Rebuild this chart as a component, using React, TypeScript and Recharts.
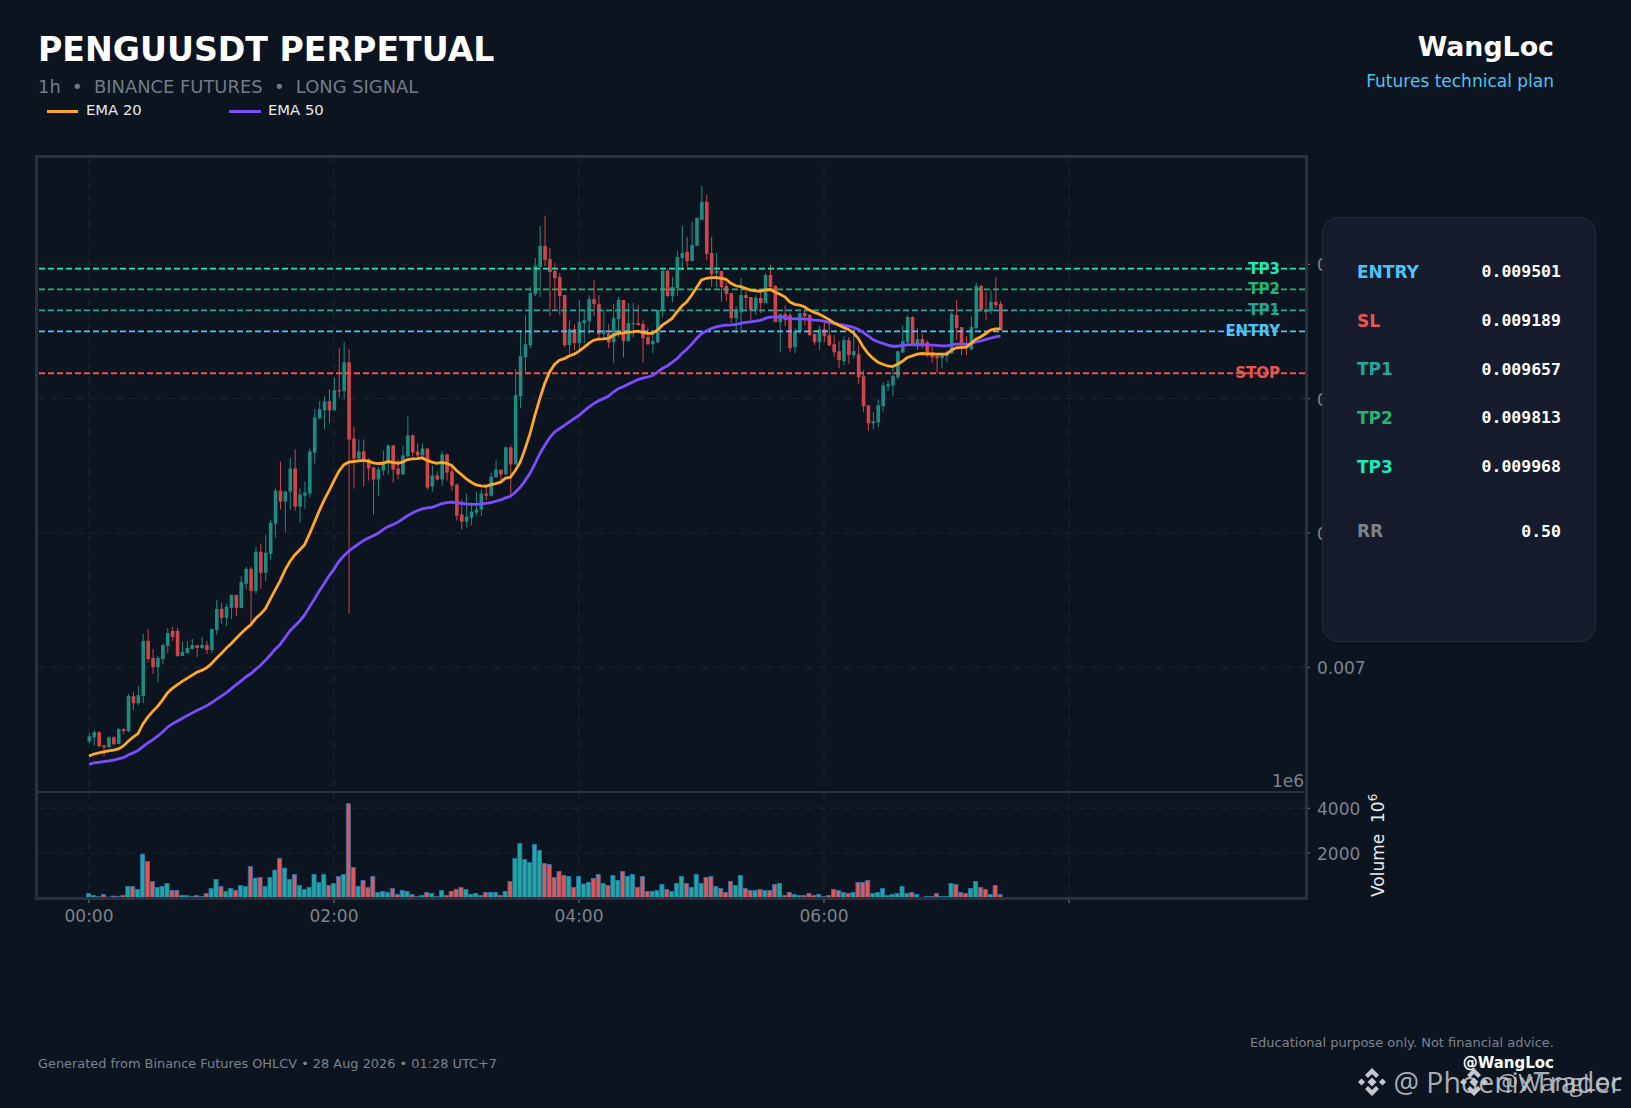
import React from "react";
import {
  Bar,
  CartesianGrid,
  ComposedChart,
  Line,
  ReferenceLine,
  XAxis,
  YAxis,
} from "recharts";

// prices below are in millionths of USDT
const opens = [
  6450, 6480, 6517, 6420, 6405, 6480, 6428, 6540, 6525, 6786, 6733, 6786, 7196, 7069, 7002, 7062, 7159, 7271, 7271, 7084,
  7107, 7136, 7166, 7144, 7166, 7129, 7278, 7435, 7368, 7443, 7539, 7443, 7621, 7733, 7569, 7860, 7704, 7845, 8070, 8316,
  8234, 8308, 8480, 8196, 8278, 8293, 8599, 8853, 8913, 8980, 8913, 9062, 9055, 9271, 8704, 8554, 8607, 8547, 8487, 8398,
  8465, 8517, 8652, 8480, 8435, 8569, 8726, 8607, 8577, 8629, 8346, 8428, 8398, 8584, 8458, 8360, 8137, 8084, 8114, 8152,
  8174, 8293, 8278, 8413, 8472, 8435, 8637, 8510, 9017, 9308, 9398, 9778, 9980, 10137, 10039, 9950, 9905, 9771, 9398, 9517,
  9413, 9562, 9577, 9741, 9704, 9480, 9487, 9420, 9592, 9734, 9428, 9555, 9562, 9555, 9458, 9405, 9420, 9659, 9950, 9764,
  9823, 10047, 10092, 10025, 10137, 10331, 10465, 10084, 9935, 9950, 9838, 9786, 9599, 9644, 9771, 9756, 9659, 9749, 9711, 9920,
  9838, 9570, 9629, 9622, 9383, 9502, 9637, 9622, 9480, 9420, 9517, 9472, 9405, 9353, 9278, 9435, 9323, 9330, 9167, 8950,
  8816, 8823, 8943, 9092, 9099, 9159, 9345, 9420, 9607, 9405, 9443, 9420, 9345, 9316, 9301, 9316, 9338, 9622, 9532, 9405,
  9368, 9525, 9838, 9659, 9652, 9719, 9704,
];
const highs = [
  6510, 6532, 6525, 6420, 6487, 6487, 6547, 6547, 6801, 6816, 6860, 7248, 7286, 7136, 7084, 7174, 7293, 7301, 7293, 7189,
  7196, 7211, 7166, 7226, 7196, 7286, 7502, 7480, 7472, 7539, 7539, 7681, 7748, 7748, 7898, 7920, 7987, 8099, 8331, 8532,
  8316, 8562, 8622, 8331, 8383, 8629, 8920, 8980, 9017, 9070, 9159, 9375, 9420, 9368, 8793, 8696, 8696, 8554, 8495, 8495,
  8614, 8659, 8652, 8547, 8652, 8868, 8734, 8666, 8666, 8629, 8502, 8458, 8607, 8592, 8495, 8368, 8249, 8293, 8226, 8308,
  8323, 8353, 8450, 8540, 8472, 8644, 8652, 9219, 9510, 9621, 9831, 10047, 10286, 10361, 10122, 10010, 9935, 9771, 9584, 9554,
  9734, 9659, 9771, 9883, 9771, 9659, 9554, 9704, 9756, 9734, 9711, 9711, 9696, 9584, 9532, 9495, 9659, 9965, 9965, 9905,
  10099, 10286, 10204, 10316, 10346, 10584, 10517, 10204, 10084, 9950, 9860, 9786, 9689, 9898, 9801, 9756, 9771, 9786, 9935, 9995,
  9846, 9629, 9696, 9637, 9524, 9637, 9666, 9629, 9487, 9540, 9584, 9562, 9472, 9428, 9465, 9458, 9510, 9398, 9211, 8950,
  8898, 8995, 9122, 9137, 9241, 9353, 9547, 9622, 9614, 9525, 9480, 9435, 9383, 9338, 9345, 9360, 9644, 9734, 9532, 9465,
  9614, 9860, 9846, 9793, 9808, 9905, 9726,
];
const lows = [
  6435, 6420, 6405, 6338, 6405, 6420, 6428, 6502, 6517, 6681, 6718, 6733, 7039, 6950, 6890, 7025, 7107, 7196, 7077, 7084,
  7099, 7136, 7077, 7136, 7099, 7107, 7241, 7323, 7308, 7360, 7383, 7443, 7577, 7323, 7547, 7584, 7644, 7801, 7965, 8174,
  8002, 8174, 8166, 8077, 8181, 8263, 8517, 8845, 8771, 8816, 8913, 9010, 8995, 7398, 8331, 8540, 8346, 8390, 8137, 8278,
  8428, 8435, 8375, 8398, 8435, 8569, 8569, 8547, 8577, 8323, 8308, 8390, 8353, 8390, 8316, 8092, 8025, 8039, 8055, 8129,
  8129, 8241, 8271, 8413, 8390, 8435, 8278, 8510, 8928, 9196, 9375, 9763, 9756, 9987, 9614, 9659, 9622, 9383, 9323, 9360,
  9360, 9413, 9480, 9614, 9450, 9450, 9375, 9263, 9458, 9308, 9428, 9458, 9547, 9271, 9398, 9338, 9413, 9607, 9756, 9719,
  9764, 9957, 9980, 10025, 10137, 10331, 10032, 9831, 9831, 9719, 9726, 9562, 9487, 9487, 9659, 9584, 9622, 9637, 9711, 9808,
  9570, 9345, 9540, 9345, 9338, 9480, 9547, 9465, 9398, 9360, 9420, 9390, 9308, 9226, 9248, 9256, 9301, 9107, 8898, 8763,
  8771, 8786, 8905, 9055, 9017, 9144, 9338, 9405, 9398, 9360, 9375, 9308, 9263, 9189, 9226, 9271, 9330, 9435, 9323, 9323,
  9360, 9517, 9644, 9584, 9629, 9674, 9510,
];
const closes = [
  6487, 6517, 6413, 6405, 6480, 6428, 6540, 6525, 6786, 6733, 6793, 7196, 7062, 7002, 7069, 7166, 7256, 7226, 7084, 7114,
  7144, 7166, 7144, 7166, 7129, 7286, 7435, 7368, 7450, 7539, 7443, 7636, 7733, 7569, 7860, 7704, 7853, 8077, 8316, 8234,
  8308, 8480, 8196, 8286, 8301, 8607, 8860, 8920, 8980, 8913, 9062, 9055, 9271, 8696, 8554, 8607, 8547, 8480, 8398, 8472,
  8525, 8652, 8472, 8435, 8577, 8726, 8599, 8577, 8629, 8338, 8428, 8398, 8584, 8450, 8353, 8129, 8084, 8122, 8159, 8174,
  8293, 8278, 8420, 8472, 8435, 8637, 8510, 9025, 9316, 9405, 9786, 9987, 10137, 10032, 9943, 9898, 9764, 9398, 9517, 9413,
  9570, 9584, 9741, 9704, 9480, 9510, 9420, 9599, 9734, 9428, 9562, 9562, 9547, 9450, 9405, 9428, 9659, 9950, 9764, 9831,
  10054, 10084, 10025, 10144, 10346, 10465, 10077, 9927, 9950, 9831, 9778, 9599, 9652, 9771, 9749, 9659, 9749, 9711, 9920, 9831,
  9570, 9629, 9584, 9375, 9502, 9637, 9614, 9472, 9420, 9517, 9465, 9398, 9345, 9286, 9435, 9323, 9353, 9159, 8943, 8816,
  8831, 8950, 9099, 9107, 9167, 9353, 9428, 9607, 9405, 9443, 9405, 9338, 9308, 9301, 9323, 9345, 9629, 9525, 9405, 9383,
  9532, 9838, 9659, 9644, 9719, 9696, 9510,
];
const ema20 = [
  6340, 6355, 6363, 6370, 6378, 6383, 6393, 6415, 6450, 6480, 6507, 6579, 6629, 6672, 6709, 6756, 6810, 6843, 6870, 6895,
  6918, 6940, 6963, 6977, 6997, 7027, 7067, 7102, 7142, 7176, 7215, 7251, 7286, 7316, 7363, 7396, 7437, 7507, 7577, 7644,
  7724, 7788, 7836, 7873, 7913, 7993, 8079, 8166, 8246, 8316, 8390, 8460, 8507, 8527, 8532, 8537, 8540, 8534, 8522, 8517,
  8519, 8532, 8525, 8519, 8527, 8547, 8552, 8554, 8560, 8540, 8527, 8519, 8525, 8519, 8502, 8465, 8435, 8403, 8378, 8358,
  8351, 8348, 8360, 8368, 8378, 8408, 8415, 8465, 8527, 8627, 8739, 8875, 9000, 9112, 9198, 9254, 9286, 9298, 9318, 9331,
  9353, 9381, 9411, 9435, 9443, 9445, 9448, 9472, 9485, 9488, 9495, 9497, 9502, 9493, 9485, 9485, 9510, 9547, 9572, 9597,
  9646, 9689, 9721, 9771, 9828, 9883, 9896, 9900, 9900, 9896, 9888, 9858, 9840, 9833, 9821, 9808, 9803, 9798, 9810, 9812,
  9793, 9777, 9758, 9721, 9702, 9696, 9684, 9659, 9642, 9629, 9609, 9590, 9564, 9547, 9530, 9515, 9490, 9448, 9385, 9336,
  9299, 9271, 9256, 9243, 9239, 9256, 9278, 9306, 9318, 9331, 9336, 9333, 9333, 9331, 9331, 9331, 9360, 9378, 9381, 9381,
  9411, 9443, 9460, 9485, 9510, 9519, 9519,
];
const ema50 = [
  6278, 6288, 6293, 6298, 6303, 6310, 6318, 6328, 6348, 6363, 6380, 6410, 6437, 6460, 6487, 6519, 6554, 6579, 6599, 6619,
  6639, 6659, 6679, 6696, 6713, 6736, 6761, 6786, 6810, 6840, 6870, 6898, 6928, 6952, 6985, 7015, 7052, 7092, 7134, 7170,
  7221, 7271, 7308, 7345, 7390, 7450, 7507, 7569, 7624, 7681, 7731, 7788, 7830, 7864, 7892, 7918, 7943, 7963, 7980, 7997,
  8025, 8047, 8062, 8079, 8104, 8129, 8149, 8166, 8179, 8187, 8191, 8204, 8219, 8226, 8229, 8226, 8221, 8216, 8213, 8213,
  8216, 8221, 8226, 8236, 8246, 8261, 8273, 8303, 8340, 8390, 8445, 8515, 8590, 8651, 8709, 8751, 8776, 8801, 8826, 8851,
  8875, 8907, 8937, 8963, 8984, 9000, 9017, 9049, 9073, 9088, 9107, 9124, 9142, 9152, 9161, 9172, 9198, 9224, 9243, 9269,
  9298, 9336, 9368, 9405, 9448, 9485, 9504, 9522, 9534, 9542, 9547, 9547, 9552, 9560, 9567, 9572, 9577, 9583, 9597, 9607,
  9608, 9608, 9605, 9595, 9594, 9594, 9594, 9590, 9584, 9582, 9577, 9567, 9560, 9552, 9547, 9540, 9530, 9515, 9493, 9467,
  9440, 9423, 9411, 9398, 9390, 9390, 9396, 9400, 9400, 9403, 9400, 9400, 9398, 9396, 9393, 9393, 9400, 9405, 9405, 9405,
  9408, 9423, 9430, 9440, 9450, 9460, 9465,
];
const volumes = [
  207, 118, 59, 163, 44, 89, 74, 118, 518, 518, 385, 1954, 1628, 740, 474, 518, 651, 340, 340, 118,
  118, 74, 118, 74, 207, 429, 829, 518, 296, 429, 340, 562, 518, 1406, 888, 918, 518, 918, 1243, 1761,
  1332, 829, 1051, 562, 385, 474, 1051, 696, 1051, 562, 651, 962, 1051, 4203, 1362, 518, 784, 474, 962, 252,
  296, 252, 429, 163, 340, 296, 163, 74, 118, 252, 207, 74, 340, 118, 296, 385, 474, 385, 163, 207,
  118, 252, 252, 252, 118, 296, 740, 1761, 2427, 1717, 1584, 2383, 2116, 1539, 1495, 918, 1184, 1006, 962, 474,
  962, 622, 696, 873, 1051, 651, 562, 1006, 784, 1184, 962, 1051, 474, 962, 296, 296, 340, 607, 385, 296,
  651, 962, 651, 474, 1051, 651, 918, 962, 518, 429, 252, 740, 562, 1006, 429, 340, 340, 385, 340, 340,
  607, 651, 118, 252, 163, 118, 118, 207, 118, 163, 74, 118, 385, 340, 252, 207, 252, 696, 696, 784,
  207, 252, 429, 118, 163, 207, 518, 207, 252, 163, 30, 74, 74, 207, 74, 74, 651, 607, 252, 207,
  429, 740, 474, 385, 163, 562, 163,
];

const priceTicks = [0.007, 0.008, 0.009, 0.01];
const volumeTicks = [2000, 4000];
const xTicks = [0, 50, 100, 150, 200];
const xLabels = ["00:00", "02:00", "04:00", "06:00", ""];

const levelNames = ["TP3", "TP2", "TP1", "ENTRY", "STOP"];
const levelPrices = [0.009968, 0.009813, 0.009657, 0.009501, 0.009189];
const levelColors = ["#1de9b6", "#22b573", "#26a69a", "#4fc3f7", "#ef5350"];

const planNames = ["ENTRY", "SL", "TP1", "TP2", "TP3", "RR"];
const planValues = ["0.009501", "0.009189", "0.009657", "0.009813", "0.009968", "0.50"];
const planColors = ["#4fc3f7", "#ef5350", "#26a69a", "#22b573", "#1de9b6", "#7d828c"];
const planRows = [271.5, 320.5, 369, 417.5, 466.5, 531];

const BG = "#0c1420";
const GRID = "#1f2734";
const SPINE = "#2a303c";
const TICK = "#7d828c";
const UP = "#1f8a80";
const DOWN = "#d0454a";
const FONT = "'DejaVu Sans', sans-serif";

const xDomain = [-10.41, 248.16];
const priceDomain = [0.006072, 0.010806];
const volumeDomain = [0, 4724];

const rows = opens.map((o, i) => ({
  i,
  open: o / 1e6,
  close: closes[i] / 1e6,
  range: [lows[i] / 1e6, highs[i] / 1e6],
  ema20: ema20[i] / 1e6,
  ema50: ema50[i] / 1e6,
  volume: volumes[i],
  up: closes[i] >= o,
}));

function Candle(props: any) {
  const { x, y, width, height, payload } = props;
  const [low, high] = payload.range;
  const perUnit = height / (high - low);
  const top = y + (high - Math.max(payload.open, payload.close)) * perUnit;
  const bottom = y + (high - Math.min(payload.open, payload.close)) * perUnit;
  const color = payload.up ? UP : DOWN;
  const mid = x + width / 2;
  return (
    <g>
      <line x1={mid} x2={mid} y1={y} y2={y + height} stroke={color} strokeWidth={1} />
      <rect x={x} y={top} width={width} height={Math.max(bottom - top, 1)} fill={color} />
    </g>
  );
}

function VolumeBar(props: any) {
  const { x, y, width, height, payload } = props;
  return (
    <rect
      x={x}
      y={y}
      width={width}
      height={height}
      fill={payload.up ? "#26a69a" : "#ef5350"}
      stroke="#1f77b4"
      strokeWidth={0.8}
    />
  );
}

function levelLabel(name: string, color: string) {
  return ({ viewBox }: any) => (
    <text
      x={viewBox.x + viewBox.width - 25}
      y={viewBox.y + 5}
      textAnchor="end"
      fill={color}
      fontSize={15}
      fontWeight={700}
      fontFamily={FONT}
    >
      {name}
    </text>
  );
}

function Txt({ x, y, right, size, color, bold, mono, children }: any) {
  return (
    <div
      style={{
        position: "absolute",
        top: y - size,
        height: size * 2,
        lineHeight: `${size * 2}px`,
        left: right ? undefined : x,
        right: right ? 1631 - x : undefined,
        fontSize: size,
        color,
        fontWeight: bold ? 700 : 400,
        fontFamily: mono ? "'DejaVu Sans Mono', monospace" : FONT,
        whiteSpace: "pre",
      }}
    >
      {children}
    </div>
  );
}

function BinanceMark({ x, y }: { x: number; y: number }) {
  return (
    <svg width={28} height={28} viewBox="0 0 28 28" style={{ position: "absolute", left: x, top: y }}>
      <g fill="#c4c8ce">
        <path d="M14 0 L21 7 L18 10 L14 6 L10 10 L7 7 Z" />
        <path d="M14 28 L7 21 L10 18 L14 22 L18 18 L21 21 Z" />
        <path d="M0 14 L3.5 10.5 L7 14 L3.5 17.5 Z" />
        <path d="M28 14 L24.5 10.5 L21 14 L24.5 17.5 Z" />
        <path d="M14 9.5 L18.5 14 L14 18.5 L9.5 14 Z" />
      </g>
    </svg>
  );
}

export default function App() {
  return (
    <div style={{ position: "absolute", left: 0, top: 0, width: 1631, height: 1108, background: BG, overflow: "hidden", fontFamily: FONT }}>
      <Txt x={38} y={50} size={33.2} color="#ffffff" bold>PENGUUSDT PERPETUAL</Txt>
      <Txt x={38} y={86.5} size={17.9} color="#757b86">{"1h  •  BINANCE FUTURES  •  LONG SIGNAL"}</Txt>
      <Txt x={1554} y={47} size={26.8} color="#ffffff" bold right>WangLoc</Txt>
      <Txt x={1554} y={81} size={17} color="#4fc3f7" right>Futures technical plan</Txt>

      <div style={{ position: "absolute", left: 47, top: 110, width: 31, height: 3, background: "#ffa726" }} />
      <Txt x={86} y={110} size={14.8} color="#e8eaee">EMA 20</Txt>
      <div style={{ position: "absolute", left: 229, top: 110, width: 32, height: 3, background: "#7c4dff" }} />
      <Txt x={268} y={110} size={14.8} color="#e8eaee">EMA 50</Txt>

      <div style={{ position: "absolute", left: 0, top: 0 }}>
        <ComposedChart
          width={1631}
          height={1108}
          data={rows}
          margin={{ top: 156, right: 266, bottom: 316, left: 38 }}
        >
          <CartesianGrid stroke={GRID} strokeDasharray="7 6" horizontalValues={priceTicks} verticalValues={xTicks} />
          <XAxis dataKey="i" type="number" domain={xDomain} ticks={xTicks} hide allowDataOverflow />
          <YAxis
            orientation="right"
            width={60}
            domain={priceDomain}
            ticks={priceTicks}
            allowDataOverflow
            axisLine={false}
            tickSize={5}
            tickMargin={7}
            tickLine={{ stroke: TICK }}
            tick={{ fill: TICK, fontSize: 17, textAnchor: "start", dy: 1 }}
            tickFormatter={(v: number) => v.toFixed(3)}
          />
          <Bar dataKey="range" barSize={3.6} shape={<Candle />} isAnimationActive={false} />
          {levelNames.map((name, k) => (
            <ReferenceLine
              key={name}
              y={levelPrices[k]}
              stroke={levelColors[k]}
              strokeWidth={1.8}
              strokeDasharray="6 3"
              label={levelLabel(name, levelColors[k])}
            />
          ))}
          <Line dataKey="ema50" type="linear" stroke="#7c4dff" strokeWidth={2.8} dot={false} isAnimationActive={false} />
          <Line dataKey="ema20" type="linear" stroke="#ffa726" strokeWidth={2.8} dot={false} isAnimationActive={false} />
        </ComposedChart>
      </div>

      <div style={{ position: "absolute", left: 0, top: 0 }}>
        <ComposedChart
          width={1631}
          height={1108}
          data={rows}
          margin={{ top: 792, right: 266, bottom: 170, left: 38 }}
        >
          <CartesianGrid stroke={GRID} strokeDasharray="7 6" horizontalValues={volumeTicks} verticalValues={xTicks} />
          <XAxis
            dataKey="i"
            type="number"
            domain={xDomain}
            ticks={xTicks}
            height={40}
            allowDataOverflow
            axisLine={false}
            tickSize={5}
            tickMargin={7}
            tickLine={{ stroke: TICK }}
            tick={{ fill: TICK, fontSize: 17 }}
            tickFormatter={(v: number) => xLabels[xTicks.indexOf(v)]}
          />
          <YAxis
            orientation="right"
            width={60}
            domain={volumeDomain}
            ticks={volumeTicks}
            allowDataOverflow
            axisLine={false}
            tickSize={5}
            tickMargin={7}
            tickLine={{ stroke: TICK }}
            tick={{ fill: TICK, fontSize: 17, textAnchor: "start", dy: 1 }}
          />
          <Bar dataKey="volume" barSize={4.1} shape={<VolumeBar />} isAnimationActive={false} />
        </ComposedChart>
      </div>

      {/* axes frame */}
      <div style={{ position: "absolute", left: 35, top: 155, width: 1267, height: 739, border: `3px solid ${SPINE}`, pointerEvents: "none" }} />
      <div style={{ position: "absolute", left: 38, top: 791, width: 1267, height: 2, background: SPINE }} />

      <Txt x={1304} y={781} size={17} color={TICK} right>1e6</Txt>
      <div
        style={{
          position: "absolute",
          left: 1378,
          top: 897,
          transformOrigin: "0 0",
          transform: "rotate(-90deg) translateY(-50%)",
          fontSize: 17,
          color: "#e8eaee",
          whiteSpace: "pre",
          lineHeight: "20px",
        }}
      >
        {"Volume  10"}
        <sup style={{ fontSize: 12, lineHeight: 0 }}>6</sup>
      </div>

      {/* plan panel */}
      <div
        style={{
          position: "absolute",
          left: 1322,
          top: 217,
          width: 272,
          height: 423,
          background: "#161c2b",
          border: "1.5px solid #232a38",
          borderRadius: 16,
        }}
      />
      {planNames.map((name, k) => (
        <React.Fragment key={name}>
          <Txt x={1357} y={planRows[k]} size={17} color={planColors[k]} bold>{name}</Txt>
          <Txt x={1561} y={planRows[k]} size={16.5} color="#ffffff" bold mono right>{planValues[k]}</Txt>
        </React.Fragment>
      ))}

      <Txt x={38} y={1064} size={12.9} color={TICK}>Generated from Binance Futures OHLCV • 28 Aug 2026 • 01:28 UTC+7</Txt>
      <Txt x={1554} y={1043} size={13} color={TICK} right>Educational purpose only. Not financial advice.</Txt>
      <Txt x={1554} y={1063} size={15} color="#ffffff" bold right>@WangLoc</Txt>

      {/* watermark */}
      <BinanceMark x={1358} y={1068} />
      <BinanceMark x={1460} y={1068} />
      <div style={{ position: "absolute", right: 9, top: 1064, fontSize: 28.5, lineHeight: "36px", color: "#c4c8ce", fontFamily: "'Open Sans', sans-serif", whiteSpace: "pre", opacity: 0.85 }}>@ PhoenixTrader</div>
      <div style={{ position: "absolute", right: 9, top: 1064, fontSize: 24.5, lineHeight: "36px", color: "#c4c8ce", fontFamily: "'Open Sans', sans-serif", whiteSpace: "pre", opacity: 0.85 }}>@WangLoc</div>
    </div>
  );
}
